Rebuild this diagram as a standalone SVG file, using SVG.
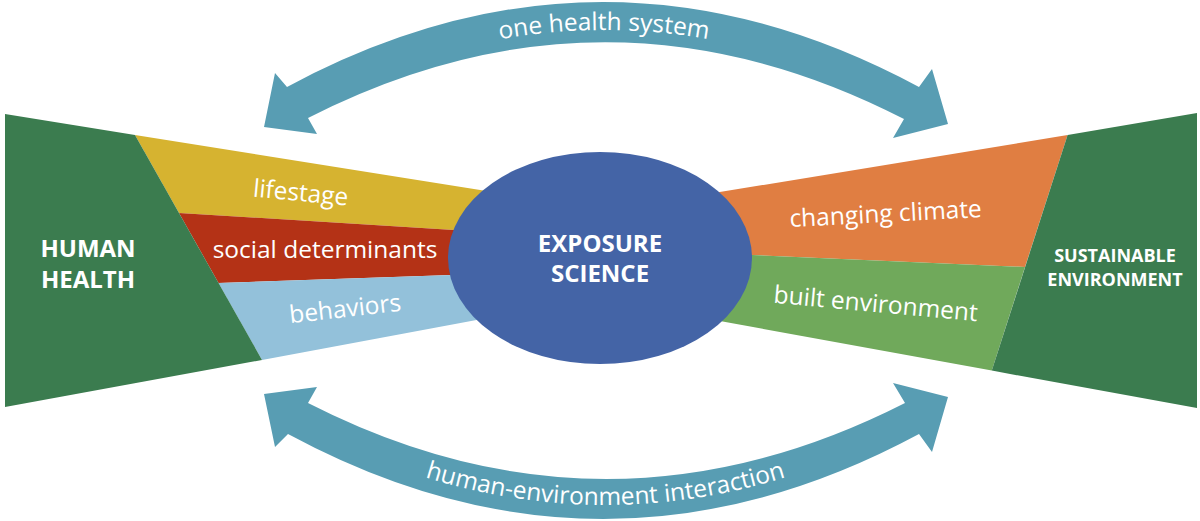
<svg xmlns="http://www.w3.org/2000/svg" width="1200" height="521" viewBox="0 0 1200 521">
<defs>
<style>
.lbl{font-family:"Open Sans","Liberation Sans",sans-serif;fill:#ffffff;font-size:24px;text-anchor:middle}
.band{font-size:24.5px}
.bold{font-weight:bold}
.small{font-size:18px}
.arrow{fill:#589db3}
</style>
<path id="topBase" d="M 297,110 Q 605,-50 911,110"/>
<path id="botBase" d="M 298,424 Q 605,586 913,424"/>
</defs>
<rect width="1200" height="521" fill="#ffffff"/>
<g id="connectors">
<path id="one-health-arrow" class="arrow" d="M 275,73 L 287,87 Q 603,-83 919,87 L 932,69 L 948,124 L 893,138 L 904,119 Q 606,-34 308,118 L 317,134 L 264,127 Z"/>
<path id="interaction-arrow" class="arrow" d="M 264,394 L 317,387 L 308,403 Q 606,555 905,403 L 893,383 L 948,397 L 932,452 L 919,434 Q 603,604 288,434 L 275,447 Z"/>
<text class="lbl" style="font-size:24.5px"><textPath href="#topBase" startOffset="50%">one health system</textPath></text>
<text class="lbl" style="font-size:24.5px"><textPath href="#botBase" startOffset="50%">human-environment interaction</textPath></text>
</g>
<g id="lifestage">
<polygon points="135,135 520,196.4 520,234 179,213" fill="#d6b330"/>
<text class="lbl band" transform="translate(300,201) rotate(5.5)">lifestage</text>
</g>
<g id="social-determinants">
<polygon points="179,213 520,234 520,272.6 218.5,283" fill="#b43216"/>
<text class="lbl band" x="325" y="258">social determinants</text>
</g>
<g id="behaviors">
<polygon points="218.5,283 520,272.6 520,312 262,360" fill="#93c1da"/>
<text class="lbl band" transform="translate(346,317) rotate(-6.5)">behaviors</text>
</g>
<g id="human-health">
<polygon points="5,114 135,135 262,360 5,407" fill="#3b7c4f"/>
<text class="lbl bold" x="88" y="257">HUMAN</text>
<text class="lbl bold" x="88" y="288">HEALTH</text>
</g>
<g id="changing-climate">
<polygon points="680,198.6 1067.6,135 1025,267 680,251.8" fill="#e07e42"/>
<text class="lbl band" transform="translate(886,222) rotate(-3)">changing climate</text>
</g>
<g id="built-environment">
<polygon points="680,251.8 1025,267 991.8,370.6 680,313.8" fill="#70a95b"/>
<text class="lbl band" transform="translate(875,312) rotate(5.2)">built environment</text>
</g>
<g id="sustainable-environment">
<polygon points="1067.6,135 1197,113 1197,408 991.8,370.6" fill="#3b7c4f"/>
<text class="lbl bold small" x="1115" y="262">SUSTAINABLE</text>
<text class="lbl bold small" x="1115" y="286">ENVIRONMENT</text>
</g>
<g id="exposure-science">
<ellipse cx="600" cy="258" rx="152" ry="106" fill="#4464a6"/>
<text class="lbl bold" x="600" y="252">EXPOSURE</text>
<text class="lbl bold" x="600" y="282">SCIENCE</text>
</g>
</svg>
